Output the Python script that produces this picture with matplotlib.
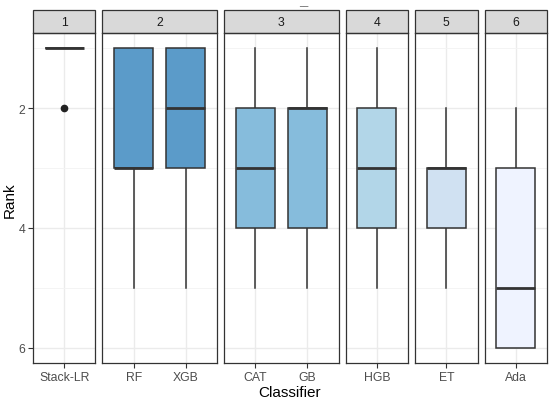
import matplotlib
matplotlib.use("Agg")
import matplotlib.pyplot as plt
from matplotlib.patches import Rectangle
import numpy as np

plt.rcParams['font.family'] = ['Liberation Sans', 'DejaVu Sans']

# ---- data ----
groups = ["1", "2", "3", "4", "5", "6"]
classifiers = ["Stack-LR", "RF", "XGB", "CAT", "GB", "HGB", "ET", "Ada"]
group_of = ["1", "2", "2", "3", "3", "4", "5", "6"]
q1 = [1, 1, 1, 2, 2, 2, 3, 3]
med = [1, 3, 2, 3, 2, 3, 3, 5]
q3 = [1, 3, 3, 4, 4, 4, 4, 6]
whislo = [1, 1, 1, 1, 1, 1, 2, 2]
whishi = [1, 5, 5, 5, 5, 5, 5, 6]
fliers = [[2], [], [], [], [], [], [], []]
group_colors = {"1": "#5b9bc9", "2": "#5b9bc9", "3": "#86bcdc",
                "4": "#b2d6e8", "5": "#d0e1f2", "6": "#eff3ff"}
y_ticks = [2, 4, 6]
title_text = "__"

W, H = 550, 402
fig = plt.figure(figsize=(W / 100, H / 100), dpi=100)

counts = [group_of.count(g) for g in groups]
ratios = [c + 0.2 for c in counts]
left, right = 33 / W, 547 / W
bottom, top = 1 - 364 / H, 1 - 34 / H
avg_w = (547 - 33 - 35) / 6
gs = fig.add_gridspec(1, len(groups), width_ratios=ratios, left=left, right=right,
                      bottom=bottom, top=top, wspace=7 / avg_w)

edge = "#333333"
grid_c = "#ebebeb"
axes = []
for gi, g in enumerate(groups):
    ax = fig.add_subplot(gs[0, gi])
    axes.append(ax)
    idx = [i for i, gg in enumerate(group_of) if gg == g]
    stats = []
    for i in idx:
        stats.append(dict(q1=q1[i], med=med[i], q3=q3[i], whislo=whislo[i],
                          whishi=whishi[i], fliers=fliers[i], label=classifiers[i]))
    pos = list(range(1, len(idx) + 1))
    bp = ax.bxp(stats, positions=pos, widths=0.75, patch_artist=True, showcaps=False,
                boxprops=dict(facecolor=group_colors[g], edgecolor=edge, linewidth=1.1),
                medianprops=dict(color="#333333", linewidth=2.0),
                whiskerprops=dict(color=edge, linewidth=1.1),
                flierprops=dict(marker='o', markerfacecolor="#222222", markeredgecolor="#222222",
                                markersize=4.5))
    for p in bp['boxes']:
        p.set_zorder(3)
    for m in bp['medians']:
        m.set_zorder(4)
    ax.set_xlim(0.4, len(idx) + 0.6)
    ax.set_ylim(6.25, 0.75)
    ax.set_yticks(y_ticks)
    ax.set_yticks([1, 3, 5], minor=True)
    ax.set_xticks(pos)
    ax.set_xticklabels([classifiers[i] for i in idx])
    ax.grid(True, which='major', color=grid_c, linewidth=1.0, zorder=0)
    ax.grid(True, which='minor', axis='y', color="#f3f3f3", linewidth=0.6, zorder=0)
    ax.set_axisbelow(True)
    for s in ax.spines.values():
        s.set_color(edge)
        s.set_linewidth(0.9)
    ax.tick_params(axis='both', which='major', colors="#333333", labelcolor="#4d4d4d",
                   labelsize=8.8, length=3.5, width=0.8, pad=2)
    ax.tick_params(axis='y', which='minor', length=0)
    if gi > 0:
        ax.tick_params(axis='y', which='both', left=False, labelleft=False)
    # strip
    strip_h = 23 / 330
    ax.add_patch(Rectangle((0, 1), 1, strip_h, transform=ax.transAxes, clip_on=False,
                           facecolor="#d9d9d9", edgecolor=edge, linewidth=0.9))
    ax.text(0.5, 1 + strip_h / 2, g, transform=ax.transAxes, ha='center', va='center',
            fontsize=8.8, color="#1a1a1a")

fig.text((33 + 547) / 2 / W, 1 - 393 / H, "Classifier", ha='center', va='center', fontsize=11)
fig.text(10 / W, 1 - 200 / H, "Rank", ha='center', va='center', rotation=90, fontsize=11)
fig.text(304 / W, 1 - 0.5 / H, title_text, ha='center', va='top', fontsize=6)

fig.savefig("out.png", dpi=100, facecolor="white")
